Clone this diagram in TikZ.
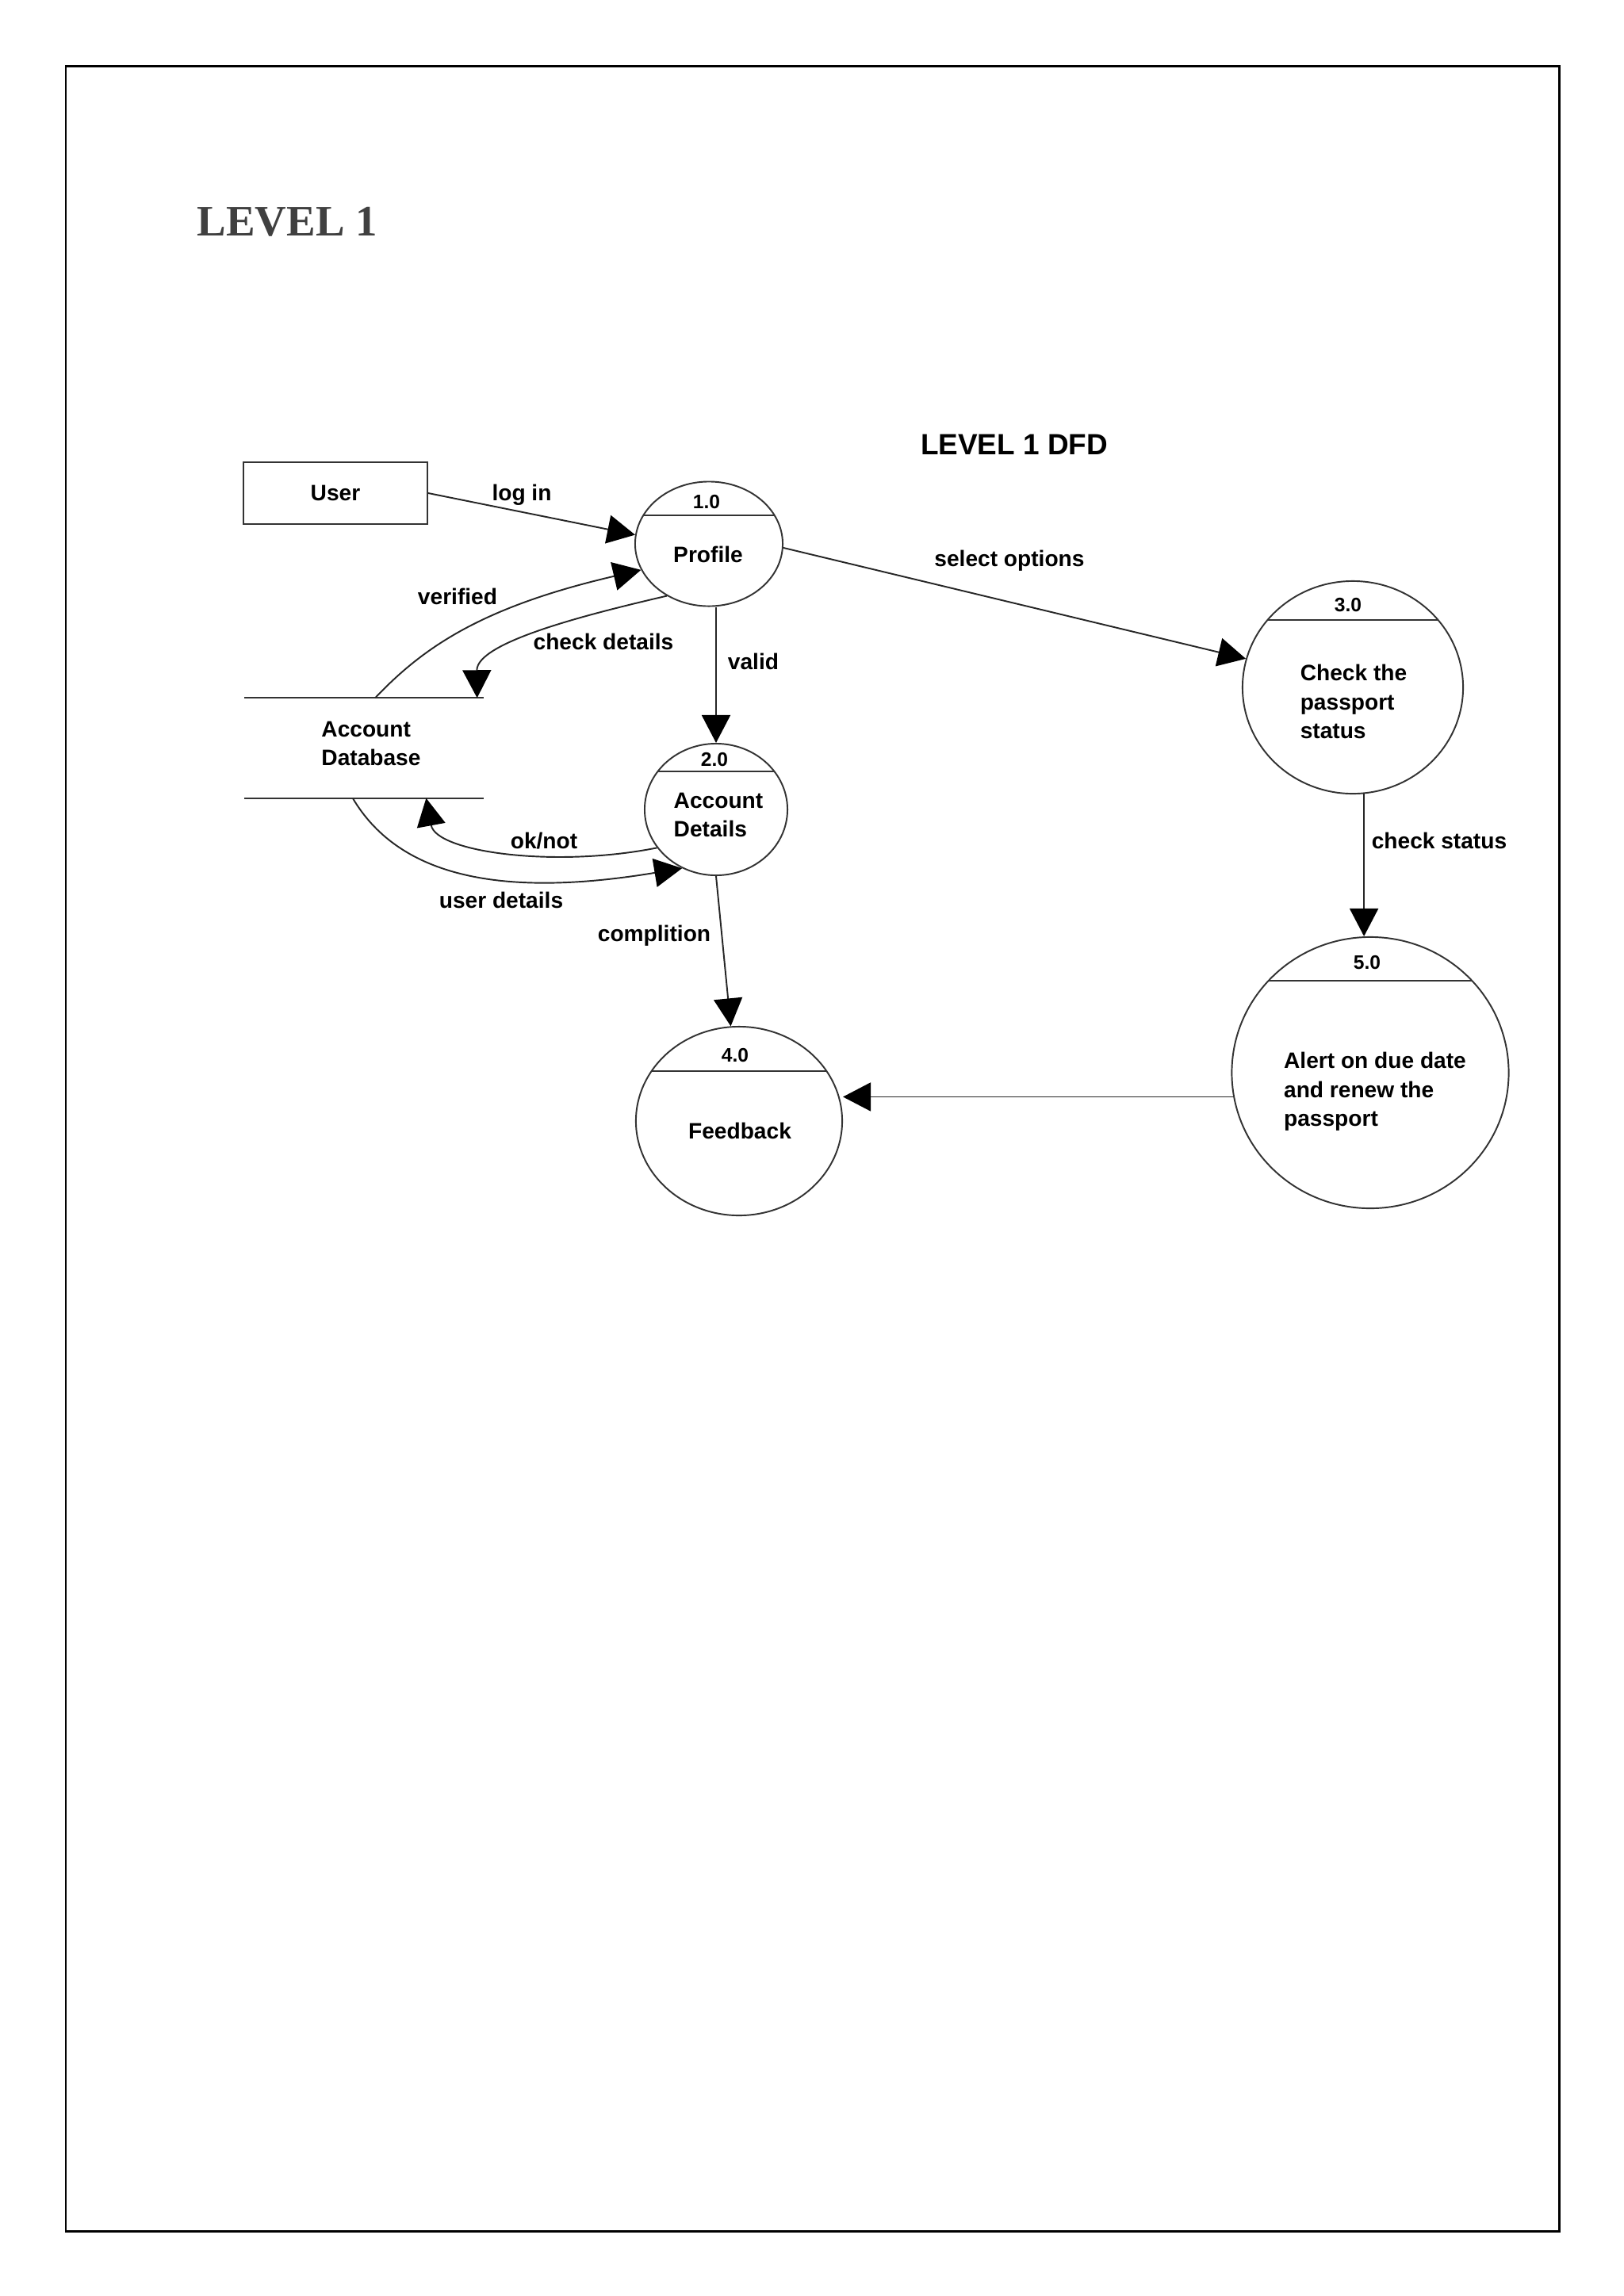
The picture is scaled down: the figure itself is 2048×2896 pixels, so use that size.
\documentclass[tikz,border=0pt]{standalone}
\usepackage{fontspec}
\setmainfont{Liberation Sans}
\newfontfamily\headfont{Liberation Serif}
\usetikzlibrary{shapes.geometric,arrows.meta,calc}
\tikzset{
  proc/.style={ellipse, draw=black!80, line width=0.55pt, inner sep=0pt,
    path picture={\draw[black!80, line width=0.55pt]
      ($(path picture bounding box.west)+(0,#1)$) -- ($(path picture bounding box.east)+(0,#1)$);}},
  flow/.style={draw=black!85, line width=0.55pt, -{Triangle[length=0.35cm,width=0.36cm,black]}},
  lbl/.style={font=\fontsize{8}{10.4}\selectfont\bfseries, inner sep=0pt},
  num/.style={font=\fontsize{7}{8}\selectfont\bfseries, inner sep=0pt},
  txt/.style={lbl, align=left},
}
\begin{document}
\begin{tikzpicture}[x=0.01cm, y=-0.01cm]
			\useasboundingbox (0,0) rectangle (2048,2896);
			\draw[line width=0.85pt] (83,83) rectangle (1966,2814);
			\node[anchor=base west, inner sep=0pt, text=black!75, font=\headfont\fontsize{15.6}{18}\selectfont\bfseries] (level) at (248,297) {LEVEL 1};
			\node[font=\fontsize{10.5}{12}\selectfont\bfseries, inner sep=0pt] (title) at (1279,561) {LEVEL 1 DFD};
			% entity and store
			\node[draw=black!80, line width=0.55pt, minimum width=2.32cm, minimum height=0.78cm, lbl] (user) at (423,622) {User};
			\node[minimum width=3cm, minimum height=1.25cm, inner sep=0pt] (db) at (459,943.5) {};
			\draw[black!80, line width=0.55pt] (db.north west) -- (db.north east) (db.south west) -- (db.south east);
			\node[txt] (dbtxt) at (468,938) {Account\\Database};
			% processes
			\node[proc=-36, minimum width=1.86cm, minimum height=1.57cm] (p1) at (894,686) {};
			\node[proc=-48, minimum width=1.80cm, minimum height=1.66cm] (p2) at (903,1021) {};
			\node[proc=-85, minimum width=2.78cm, minimum height=2.68cm] (p3) at (1706,867) {};
			\node[proc=-63, minimum width=2.60cm, minimum height=2.38cm] (p4) at (932,1414) {};
			\node[proc=-116, minimum width=3.49cm, minimum height=3.42cm] (p5) at (1728,1353) {};
			\node[num] (n1) at (891,633) {1.0};
			\node[num] (n2) at (901,958) {2.0};
			\node[num] (n3) at (1700,763) {3.0};
			\node[num] (n4) at (927,1331) {4.0};
			\node[num] (n5) at (1724,1214) {5.0};
			\node[lbl] (t1) at (893,699) {Profile};
			\node[txt] (t2) at (906,1028) {Account\\Details};
			\node[txt] (t3) at (1707,885) {Check the\\passport\\status};
			\node[lbl] (t4) at (933,1426) {Feedback};
			\node[txt] (t5) at (1734,1377) {Alert on due date\\and renew the\\passport};
			% points on the store
			\coordinate (dbA) at ($(db.north west)!0.547!(db.north east)$);
			\coordinate (dbB) at ($(db.north west)!0.973!(db.north east)$);
			\coordinate (dbC) at ($(db.south west)!0.76!(db.south east)$);
			\coordinate (dbD) at ($(db.south west)!0.453!(db.south east)$);
			% flows
			\draw[flow] (user.east) -- (p1.173);
			\draw[flow] (dbA) .. controls (535,815) and (610,765) .. (p1.201);
			\draw[flow] (p1.231) .. controls (740,775) and (601,810) .. (dbB);
			\draw[flow] (p2.north |- p1.south) -- (p2.north);
			\draw[flow] (p1.-3) -- (p3.165);
			\draw[flow] (p3.-84) -- (p3.-84 |- p5.north);
			\draw[flow] (p2.south) -- (p4.95);
			\draw[flow] (p5.190) -- (p5.190 -| p4.east);
			\draw[flow] (p2.213) .. controls (700,1095) and (550,1075) .. (dbC);
			\draw[flow] (dbD) .. controls (500,1100) and (620,1135) .. (p2.240);
			\node[lbl] (l1) at (658,624) {log in};
			\node[lbl] (l2) at (577,752) {verified};
			\node[lbl] (l3) at (761,809) {check details};
			\node[lbl] (l4) at (950,834) {valid};
			\node[lbl] (l5) at (1273,707) {select options};
			\node[lbl] (l6) at (1815,1060) {check status};
			\node[lbl] (l7) at (686,1061) {ok/not};
			\node[lbl] (l8) at (632,1135) {user details};
			\node[lbl] (l9) at (825,1180) {complition};
		\end{tikzpicture}
\end{document}
